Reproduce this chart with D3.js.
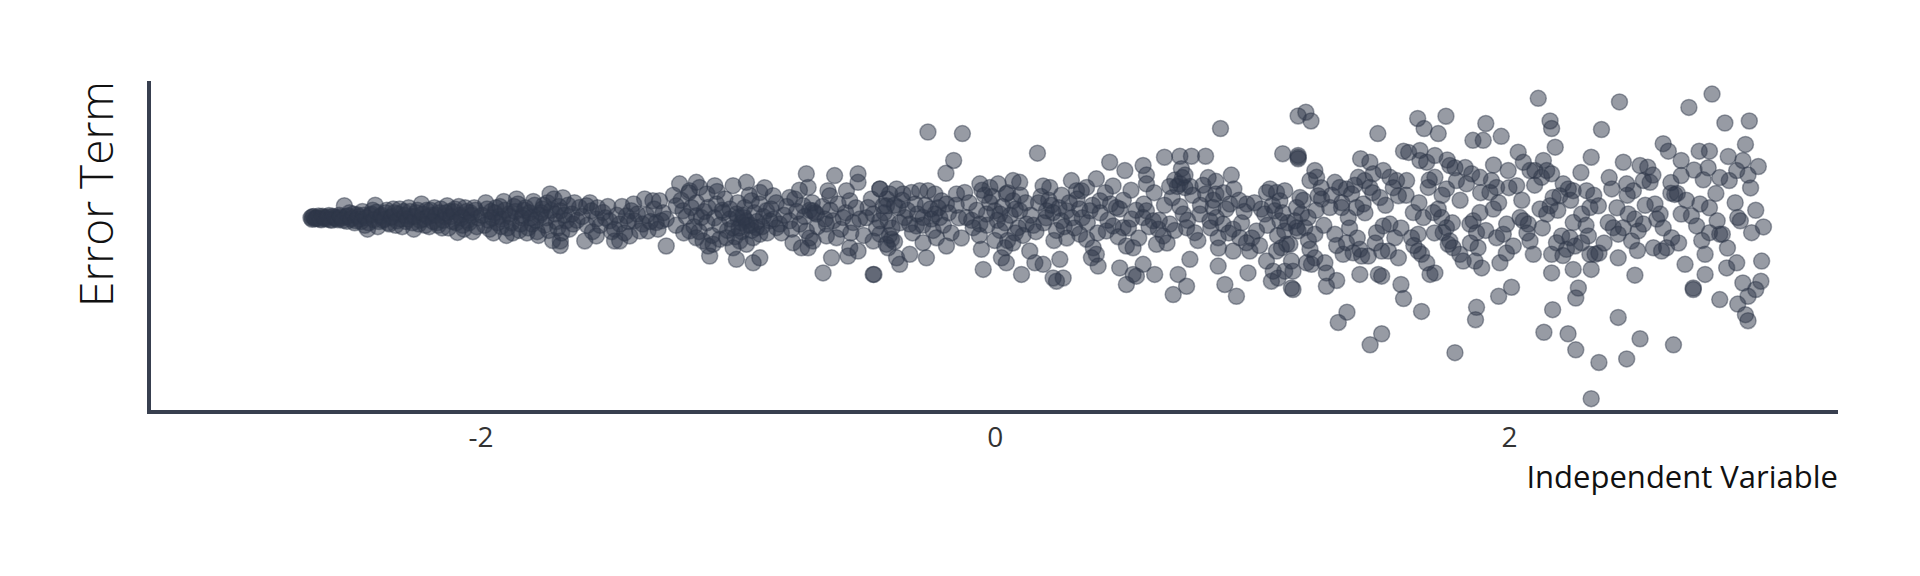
<!DOCTYPE html>
<html>
<head>
<meta charset="utf-8">
<script src="https://cdn.jsdelivr.net/npm/d3@7"></script>
<style>
  body { margin: 0; background: #ffffff; }
  svg { display: block; font-family: "Open Sans", sans-serif; }
</style>
</head>
<body>
<svg id="chart"></svg>
<script>
// Axis text
const xTicks = [-2, 0, 2];
const xLabel = 'Independent Variable';
const yLabel = 'Error Term';

// Points, [independent variable, error term], left to right
const tailPoints = [
  [-2.66,0.0],[-2.655,-0.06],[-2.65,0.05],[-2.64,-0.02],[-2.63,0.07],[-2.62,-0.08],[-2.61,0.02],[-2.60,-0.05],
  [-2.59,0.09],[-2.58,-0.1],[-2.57,0.03],[-2.56,-0.04],[-2.55,0.1],[-2.54,-0.02],[-2.53,0.48],[-2.525,0.05],
  [-2.52,-0.14],[-2.51,0.2],[-2.50,0.0],[-2.49,-0.2],[-2.48,0.12],[-2.47,-0.05],[-2.46,0.25],[-2.45,-0.3],
  [-2.44,-0.45],[-2.43,0.1],[-2.42,0.3],[-2.41,0.5],[-2.40,-0.35],[-2.39,0.05],[-2.38,-0.1],[-2.37,0.2],
  [-2.36,-0.2],[-2.35,0.0],[-2.34,0.35],[-2.33,-0.3],[-2.32,0.15],[-2.31,-0.05],[-2.30,0.25],[-2.29,-0.15],
  [-2.28,0.4],[-2.27,0.05],[-2.26,-0.45],[-2.25,0.2],[-2.24,-0.25],[-2.23,0.55],[-2.22,-0.05],[-2.21,0.3],
  [-2.20,-0.35],[-2.19,0.1],[-2.18,0.4],[-2.17,-0.2],[-2.16,0.2],[-2.15,-0.4],[-2.14,0.05],[-2.13,0.48],
  [-2.12,0.25],[-2.11,-0.15],[-2.10,0.35],[-2.09,-0.58],[-2.08,0.1],[-2.07,-0.3],[-2.06,0.4],[-2.05,-0.1],
  [-2.04,0.2],[-2.03,-0.55],[-2.02,0.3],[-2.01,0.0],
  [-2.655,0.04],[-2.645,-0.04],[-2.635,0.0],[-2.625,-0.05],[-2.615,0.06],[-2.605,-0.02],[-2.595,0.03],
  [-2.585,-0.07],[-2.575,0.06],[-2.565,0.0],[-2.555,-0.08],[-2.545,0.04],[-2.535,-0.1],[-2.515,0.08],
  [-2.505,-0.06],[-2.495,0.15],[-2.485,-0.12],[-2.475,0.05],[-2.465,-0.15],[-2.455,0.1],[-2.445,0.0],
  [-2.435,-0.2],[-2.425,0.15],[-2.415,-0.08],[-2.405,0.22],[-2.395,-0.15],[-2.385,0.1],[-2.375,-0.05],
  [-2.365,0.3],[-2.355,-0.25],[-2.345,0.05],[-2.335,0.2],[-2.325,-0.12],[-2.315,0.35],[-2.305,-0.35],
  [-2.295,0.1],[-2.285,-0.05],[-2.275,0.25],[-2.265,-0.2],[-2.255,0.05],[-2.245,0.3],[-2.235,-0.1],
  [-2.225,0.15],[-2.215,-0.3],[-2.205,0.05],[-2.195,0.3],[-2.185,-0.15],[-2.175,0.1],[-2.165,-0.3],
  [-2.155,0.35],[-2.145,-0.1],[-2.135,0.2],[-2.125,-0.4],[-2.115,0.05],[-2.105,0.25],[-2.095,-0.2],
  [-2.085,0.45],[-2.075,0.0],[-2.065,-0.45],[-2.055,0.25],[-2.045,-0.2],[-2.035,0.1],[-2.025,0.4],[-2.015,-0.35]
];

const narrowPoints = [
  [-1.98,0.6],[-1.97,-0.1],[-1.96,0.25],[-1.95,-0.6],[-1.94,0.4],[-1.93,0.05],[-1.92,-0.35],[-1.91,0.65],
  [-1.90,-0.7],[-1.89,0.15],[-1.88,-0.2],[-1.87,0.45],[-1.86,0.75],[-1.85,-0.5],[-1.84,0.0],[-1.83,0.3],
  [-1.82,-0.6],[-1.81,0.2],[-1.80,-0.25],[-1.79,0.5],[-1.78,-0.55],[-1.77,0.1],[-1.76,0.35],[-1.75,-0.3],
  [-1.74,0.6],[-1.73,0.95],[-1.72,-0.9],[-1.71,0.15],[-1.70,-0.4],[-1.69,-1.1],[-1.68,0.8],[-1.66,0.5],
  [-1.69,0.28],[-1.667,-0.12],[-1.64,-0.25],[-1.615,0.41],[-1.588,0.48],[-1.569,0.28],[-1.55,-0.05],
  [-1.524,0.21],[-1.498,-0.12],[-1.479,-0.45],[-1.459,-0.25],[-1.433,0.08],[-1.414,0.28],[-1.401,-0.12],
  [-1.381,-0.52],[-1.362,0.75],[-1.33,0.68],[-1.304,0.68],[-1.317,-0.19],[-1.297,-0.12],[-1.278,-0.05],
  [-1.69,-0.92],[-1.595,-0.92],[-1.55,-0.72],[-1.479,-0.92],[-1.459,-0.92],[-1.42,-0.72],[-1.349,-0.52],
  [-1.278,-1.12],
  [-1.995,0.1],[-1.985,-0.3],[-1.975,0.35],[-1.965,-0.45],[-1.955,0.0],[-1.945,0.2],[-1.935,-0.2],
  [-1.925,0.45],[-1.915,-0.05],[-1.905,0.3],[-1.895,-0.4],[-1.885,0.05],[-1.875,-0.6],[-1.865,0.25],
  [-1.855,0.55],[-1.845,-0.25],[-1.835,0.1],[-1.825,0.4],[-1.815,-0.4],[-1.805,0.0],[-1.795,0.65],
  [-1.785,-0.1],[-1.775,-0.7],[-1.765,0.2],[-1.755,0.5],[-1.745,0.0],[-1.735,-0.5],[-1.725,0.3],
  [-1.715,0.75],[-1.705,-0.15],[-1.695,0.45],[-1.685,-0.6],[-1.675,0.1],[-1.655,-0.45],[-1.645,0.15],
  [-1.635,0.6],[-1.625,-0.1],[-1.605,0.05],[-1.585,-0.3],[-1.575,0.6],[-1.565,-0.55],[-1.545,0.4],
  [-1.535,-0.3],[-1.515,0.0],[-1.505,0.45],[-1.49,-0.55],[-1.47,0.1],[-1.45,0.45],[-1.44,-0.6],
  [-1.425,-0.15],[-1.405,0.55],[-1.39,0.15],[-1.37,-0.25],[-1.355,0.1],[-1.34,-0.15],[-1.325,0.35],
  [-1.31,-0.45],[-1.29,0.2]
];

const middlePoints = [
  [-1.226,1.35],[-1.187,1.08],[-1.161,1.41],[-1.148,1.21],[-1.089,1.28],[-1.018,1.28],[-0.966,1.41],
  [-0.914,1.01],[-0.862,0.88],[-1.239,0.48],[-1.213,0.28],[-1.18,0.41],[-1.161,0.08],[-1.141,0.01],
  [-1.115,0.41],[-1.083,0.55],[-1.056,0.21],[-1.031,-0.05],[-1.005,0.15],[-0.985,-0.19],[-0.966,-0.12],
  [-0.973,0.41],[-0.947,0.68],[-0.927,-0.39],[-0.888,0.28],[-0.875,-0.12],[-0.849,-0.39],[-0.837,-0.25],
  [-1.187,-0.52],[-1.161,-0.79],[-1.135,-0.92],[-1.115,-1.12],[-1.096,-1.05],[-1.07,-0.85],[-1.044,-0.79],
  [-1.018,-1.19],[-0.992,-0.92],[-0.966,-1.05],[-0.94,-0.79],[-0.914,-0.65],[-1.109,-1.52],[-1.005,-1.65],
  [-0.94,-1.79],[-0.914,-1.59],[-1.06,0.3],[-1.0,0.0],[-0.98,0.1],[-1.02,-0.4],[-0.95,-0.3],[-1.12,-0.2],
  [-0.9,0.05],
  [-0.733,1.75],[-0.726,1.21],[-0.623,1.68],[-0.532,1.75],[-0.532,1.41],[-0.577,1.08],[-0.564,0.68],
  [-0.649,1.08],[-0.642,0.88],[-0.447,1.15],[-0.778,0.75],[-0.745,0.48],[-0.707,0.28],[-0.798,-0.12],
  [-0.759,-0.25],[-0.733,-0.52],[-0.694,0.15],[-0.655,-0.25],[-0.629,-0.12],[-0.59,0.01],[-0.551,-0.19],
  [-0.525,-0.05],[-0.493,0.41],[-0.473,0.15],[-0.434,0.48],[-0.415,-0.12],[-0.785,-0.99],[-0.752,-1.19],
  [-0.726,-1.19],[-0.707,-0.92],[-0.655,-0.72],[-0.616,-0.79],[-0.564,-1.19],[-0.532,-1.32],[-0.473,-0.92],
  [-0.447,-0.65],[-0.422,-1.05],[-0.635,-1.59],[-0.571,-1.52],[-0.668,-2.19],[-0.473,-2.25],[-0.72,0.3],
  [-0.70,0.2],[-0.798,0.81],
  [-1.25,0.9],[-1.24,-0.3],[-1.22,0.7],[-1.21,-0.6],[-1.2,0.05],[-1.19,1.0],[-1.17,-0.35],[-1.16,0.6],
  [-1.15,-0.55],[-1.13,0.25],[-1.12,0.95],[-1.1,-0.7],[-1.09,0.0],[-1.08,1.05],[-1.07,-0.3],[-1.05,0.75],
  [-1.04,-0.5],[-1.03,0.35],[-1.01,-0.75],[-1.0,0.6],[-0.995,-0.4],[-0.985,-0.55],[-0.975,0.0],
  [-0.965,-0.3],[-0.955,0.9],[-0.945,-0.5],[-0.935,0.2],[-0.925,-0.15],[-0.915,0.55],[-0.905,-0.35],
  [-0.895,1.2],[-0.885,-0.6],[-0.87,0.35],[-0.86,-0.05],[-0.85,0.6],[-0.83,-0.6],[-0.82,0.1],[-0.81,0.45],
  [-0.79,-0.45],[-0.77,0.25],[-0.76,1.1],[-0.74,0.05],[-0.72,-0.8],[-0.71,0.6],[-0.69,-0.35],[-0.67,0.45],
  [-0.66,-0.05],[-0.64,0.3],[-0.61,0.55],[-0.6,-0.45],[-0.58,0.2],[-0.56,-0.6],[-0.54,0.4],[-0.51,-0.7],
  [-0.5,0.0],[-0.48,0.75],[-0.46,-0.4]
];

const widePoints = [
  [-0.26,3.41],[-0.126,3.35],[-0.16,2.28],[-0.19,1.77],[0.166,2.57],[0.878,3.55],[1.12,2.55],[0.447,2.21],
  [0.506,1.88],[0.577,2.08],[0.66,2.41],[0.72,2.45],[0.765,2.45],[0.82,2.45],[0.726,1.95],[0.59,1.7],
  [0.59,1.35],[0.70,1.5],[0.72,1.35],[0.74,1.2],[0.71,1.25],[0.68,1.25],[0.76,1.25],[0.73,1.6],
  [0.83,1.6],[0.86,1.45],[0.92,1.7],[0.82,0.95],[0.86,0.95],[0.89,1.0],[0.98,0.55],[0.95,0.7],
  [-0.447,1.15],[-0.409,0.95],[-0.382,1.15],[-0.357,0.95],[-0.421,0.48],[-0.376,0.41],[-0.324,1.01],
  [-0.292,1.08],[-0.26,1.08],[-0.233,0.95],[-0.207,0.68],[-0.35,0.01],[-0.331,-0.25],[-0.305,-0.32],
  [-0.279,0.01],[-0.246,-0.05],[-0.233,0.15],[-0.214,0.01],[-0.188,0.55],[-0.149,0.95],[-0.117,1.01],
  [-0.402,-0.85],[-0.415,-1.19],[-0.382,-1.59],[-0.37,-1.85],[-0.331,-1.45],[-0.266,-1.59],[-0.227,-0.79],
  [-0.188,-1.12],[-0.279,-0.99],[-0.41,-0.7],[-0.39,-0.95],[-0.447,-0.12],[-0.47,-2.25],
  [-0.052,-1.25],[-0.045,-2.05],[0.026,-1.59],[0.039,-1.19],[0.045,-1.79],[0.104,-2.25],[0.136,-1.32],
  [0.091,-0.39],[0.123,-0.25],[0.097,0.28],[-0.11,0.01],[-0.084,-0.39],[-0.058,-0.25],[-0.032,0.15],
  [0.0,0.28],[-0.019,1.21],[-0.058,1.35],[0.013,1.35],[0.071,1.48],[0.097,1.41],[0.045,0.95],[0.071,0.68],
  [-0.02,0.6],[0.03,0.45],[0.06,0.1],[0.01,-0.1],[-0.04,0.9],[0.08,-0.6],[0.05,-0.9],[0.02,-0.5],[0.1,0.9],
  [0.188,1.27],[0.214,1.21],[0.201,0.28],[0.227,0.21],[0.259,-0.12],[0.298,1.48],[0.318,1.08],[0.337,1.08],
  [0.357,1.21],[0.279,0.28],[0.33,0.35],[0.37,0.28],[0.395,1.55],[0.409,0.68],[0.46,1.27],[0.473,0.41],
  [0.486,0.35],[0.156,-1.79],[0.188,-1.85],[0.227,-2.39],[0.24,-2.52],[0.253,-1.65],[0.266,-2.39],
  [0.33,-0.65],[0.357,-0.85],[0.383,-1.19],[0.395,-1.45],[0.402,-1.92],[0.376,-1.59],[0.434,-0.52],
  [0.46,-0.32],[0.499,-0.39],[0.512,-1.12],[0.538,-1.19],[0.532,-0.05],[0.577,0.01],[0.577,-1.85],
  [0.538,-2.25],[0.512,-2.65],[0.551,-2.32],[0.622,-2.25],[0.486,-1.99],[0.17,0.6],[0.2,0.0],[0.24,-0.5],
  [0.15,-0.3],[0.28,-0.8],[0.3,0.0],[0.22,0.5],
  [0.59,0.28],[0.616,-0.12],[0.636,-0.45],[0.655,-0.72],[0.681,-0.25],[0.733,0.15],[0.746,-0.39],
  [0.778,-0.59],[0.629,-1.05],[0.713,-2.25],[0.694,-3.05],[0.746,-2.72],[0.759,-1.65],[0.798,0.15],
  [0.837,-0.12],[0.862,0.01],[0.888,-0.25],[0.927,-0.45],[0.953,-0.79],[0.979,-0.99],[0.869,-0.79],
  [0.849,0.41],[0.914,0.55],[0.869,-1.92],[0.895,-2.65],[0.94,-3.12],[0.927,-1.32],[0.985,-2.19],
  [0.992,-1.32],[1.018,-0.52],[1.037,0.35],[1.057,1.01],[1.07,1.15],[1.096,1.01],[1.109,0.68],[1.128,1.08],
  [1.089,0.28],[1.109,-0.12],[1.128,-0.52],[1.135,-1.05],[1.115,-1.19],[1.096,-1.32],[1.057,-1.72],
  [1.083,-2.12],[1.076,-2.52],[1.102,-2.39],[1.128,-2.12],[1.154,-2.79],[1.174,-0.39],[1.18,2.41],[1.187,0.81],
  [-0.43,0.2],[-0.42,0.75],[-0.4,-0.4],[-0.39,0.5],[-0.37,-0.2],[-0.36,0.7],[-0.34,0.3],[-0.32,-0.6],
  [-0.31,0.55],[-0.3,0.15],[-0.28,-0.3],[-0.27,0.5],[-0.25,0.35],[-0.24,-0.5],[-0.22,0.4],[-0.2,-0.3],
  [-0.18,0.2],[-0.17,-0.6],[-0.15,0.5],[-0.14,0.0],[-0.13,-0.8],[-0.1,0.6],[-0.09,-0.1],[-0.07,0.3],
  [-0.06,-0.7],[-0.05,1.1],[-0.03,-0.3],[-0.01,0.85],[0.0,-0.9],[0.02,0.15],[0.04,-0.2],[0.05,1.0],
  [0.07,-1.0],[0.08,0.35],[0.11,-0.7],[0.12,0.6],[0.14,0.1],[0.16,-0.55],[0.18,0.85],[0.19,-0.2],
  [0.21,0.7],[0.23,-0.9],[0.25,0.4],[0.26,0.9],[0.27,-0.35],[0.29,0.6],[0.31,-0.4],[0.32,0.75],
  [0.34,0.0],[0.36,-0.2],[0.38,0.5],[0.4,-0.6],[0.41,0.2],[0.43,1.0],[0.44,-0.1],[0.45,0.55],
  [0.48,-0.75],[0.5,0.7],[0.52,-0.4],[0.53,1.1],[0.55,0.3],[0.56,-0.8],[0.58,0.55],[0.6,-0.35],
  [0.62,1.0],[0.64,-0.1],[0.66,0.5],[0.67,-1.0],[0.69,0.8],[0.7,-0.5],[0.72,0.45],[0.74,1.7],
  [0.75,-0.1],[0.77,0.9],[0.79,-0.9],[0.8,0.5],[0.81,1.3],[0.84,-0.4],[0.85,0.7],[0.87,-1.2],
  [0.9,0.35],[0.91,-0.6],[0.93,1.15],[0.96,-0.2],[0.97,0.25],[1.0,-0.8],[1.01,0.6],[1.03,-1.1],
  [1.05,0.15],[1.06,-0.3],[1.08,0.5],[1.1,-0.7],[1.12,0.2],[1.14,-0.2]
];

const fanPoints = [
  [1.18,4.05],[1.21,4.2],[1.23,3.85],[1.49,3.35],[1.645,3.95],[1.755,4.04],[1.67,3.55],[1.725,3.35],
  [1.91,3.75],[1.86,3.08],[1.90,3.08],[1.97,3.24],[1.18,2.48],[1.18,2.35],[1.423,2.35],[1.459,2.21],
  [1.59,2.65],[1.61,2.6],[1.654,2.68],[1.654,2.28],[1.68,2.21],[1.712,2.48],[1.77,2.08],[1.79,1.99],
  [2.036,2.61],[2.056,2.21],[2.134,2.28],[2.147,1.88],[2.082,1.88],[2.445,2.21],[2.51,2.08],[2.54,2.01],
  [2.523,1.48],[2.549,1.41],[2.458,1.35],[2.4,1.15],[2.484,1.08],[1.245,1.88],[1.252,1.61],[1.226,1.48],
  [1.258,0.88],[1.271,0.75],[1.323,1.41],[1.342,1.21],[1.368,1.15],[1.388,0.95],[1.414,1.61],[1.439,1.48],
  [1.472,1.75],[1.511,1.88],[1.537,1.61],[1.563,1.48],[1.602,1.48],[1.459,1.21],[1.498,0.81],[1.57,0.88],
  [1.686,1.21],[1.712,1.61],[1.757,1.15],[1.796,1.48],[1.835,1.35],[1.855,1.75],[1.887,1.61],[1.932,1.48],
  [1.952,1.21],[1.926,1.01],[1.997,1.88],[2.03,1.28],[2.101,1.88],[2.127,1.61],[2.166,1.75],[2.211,1.35],
  [2.231,1.15],[2.198,0.88],[2.172,0.81],[2.25,1.08],[2.302,1.08],[2.315,0.41],[2.348,0.48],
  [1.174,0.41],[1.193,0.15],[1.167,-0.12],[1.18,-0.52],[1.206,-0.39],[1.219,0.01],[1.245,-0.65],
  [1.148,-1.05],[1.154,-1.72],[1.226,-1.25],[1.245,-1.59],[1.213,-1.79],[1.232,-1.85],[1.284,-1.79],
  [1.29,-2.19],[1.323,-0.65],[1.368,-0.99],[1.355,-1.45],[1.394,-1.39],[1.42,-1.25],[1.42,-2.25],
  [1.427,-1.52],[1.453,-1.52],[1.303,0.41],[1.349,0.41],[1.375,0.01],[1.407,0.41],[1.433,0.55],
  [1.485,-0.59],[1.511,-0.32],[1.537,-0.25],[1.505,-1.32],[1.531,-1.32],[1.57,-1.59],[1.556,-0.79],
  [1.492,-2.25],[1.505,-2.32],[1.628,0.21],[1.667,0.01],[1.706,0.21],[1.725,0.35],[1.738,0.01],
  [1.757,-0.39],[1.621,-0.79],[1.647,-0.65],[1.647,-1.32],[1.66,-1.45],[1.68,-1.79],[1.693,-2.25],
  [1.712,-2.19],[1.744,-0.59],[1.77,-0.92],[1.783,-1.19],[1.764,-1.05],[1.809,-1.45],[1.822,-1.72],
  [1.848,-0.25],[1.861,-0.12],[1.887,0.21],[1.874,-0.59],[1.88,-1.19],[1.868,-1.72],[1.894,-1.99],
  [1.939,0.35],[1.952,-0.79],[1.965,-1.79],[1.978,-0.65],[1.991,-0.25],[2.017,-1.12],[2.043,0.01],
  [2.056,-0.12],[2.075,-0.25],[2.082,-0.92],[2.095,-1.45],[2.121,0.35],[2.147,0.15],[2.16,0.48],
  [2.166,-1.45],[2.185,-0.99],[2.205,-0.72],[2.224,-1.25],[2.237,-0.79],[2.25,-0.19],[2.283,0.15],
  [2.257,-1.12],[2.283,-0.99],[2.309,-0.72],[2.315,-1.45],[2.335,-1.45],[2.35,-1.4],[2.386,-0.19],
  [2.406,-0.39],[2.425,-0.65],[2.445,-0.39],[2.464,0.15],[2.49,-0.05],[2.477,-0.92],[2.503,-0.52],
  [2.523,-0.25],[2.425,-1.59],[2.562,-1.19],[2.594,-1.32],[2.613,-1.19],[2.633,-0.79],[2.568,0.55],
  [2.588,0.15],[2.575,-0.05],
  [2.114,4.75],[2.43,4.61],[2.79,4.92],[2.70,4.39],[2.84,3.77],[2.935,3.85],[2.36,3.51],[2.16,3.85],
  [2.166,3.55],[2.18,2.81],[2.32,2.41],[2.92,2.92],[2.97,2.04],[2.94,1.19],[2.853,2.44],[2.91,2.28],
  [2.74,2.65],[2.78,2.65],[2.775,1.99],[2.756,1.51],[2.805,0.97],[2.857,1.48],[2.886,1.88],[2.60,2.95],
  [2.62,2.65],[2.67,2.28],[2.67,1.68],[2.63,0.98],[2.645,0.93],[2.655,0.97],[2.743,0.55],[2.67,0.15],
  [2.71,0.08],[2.73,-0.32],[2.81,-0.12],[2.82,-0.65],[2.83,-0.65],[2.89,0.01],[2.90,-0.12],[2.944,-0.59],
  [2.99,-0.36],[2.78,-0.59],[2.763,-1.45],[2.685,-1.85],[2.763,-2.25],[2.717,-2.79],[2.717,-2.85],
  [2.82,-3.25],[2.847,-1.99],[2.886,-1.79],[2.983,-1.72],[2.91,-2.59],[2.98,-2.52],[2.96,-2.85],
  [2.93,-3.12],[2.89,-3.43],[2.92,-3.85],[2.93,-4.09],[2.64,-5.05],[2.425,-3.96],[2.51,-4.81],
  [2.458,-5.61],[2.35,-5.75],[2.32,-7.19],[2.26,-5.25],[2.23,-4.61],[2.136,-4.55],[2.17,-3.65],
  [2.26,-3.19],[2.27,-2.79],[2.49,-2.28],[2.25,-2.05],[2.32,-2.05],[2.166,-2.19],[2.01,-2.76],[1.96,-3.12],
  [1.874,-3.56],[1.87,-4.05],[1.79,-5.36],[1.66,-3.72],[1.59,-3.21],[1.58,-2.65],[1.505,-4.61],
  [1.46,-5.05],[1.37,-3.75],[1.336,-4.16],[1.29,-2.72],[1.33,-2.49],[1.16,-2.85],[1.16,-2.12],
  [1.2,0.7],[1.22,-0.9],[1.25,0.3],[1.27,1.2],[1.28,-0.3],[1.31,0.9],[1.33,-1.1],[1.35,0.6],
  [1.38,-0.4],[1.4,1.3],[1.41,-0.8],[1.44,0.2],[1.47,1.0],[1.48,-1.0],[1.52,0.5],[1.55,1.2],
  [1.58,-0.4],[1.6,0.9],[1.63,-1.1],[1.65,0.6],[1.69,1.5],[1.71,-0.6],[1.74,0.9],[1.76,2.3],
  [1.78,-0.2],[1.81,0.7],[1.83,2.0],[1.85,-1.0],[1.89,1.0],[1.91,-0.5],[1.94,2.1],[1.96,0.6],
  [1.99,-1.4],[2.0,1.2],[2.05,0.7],[2.07,-0.6],[2.1,1.3],[2.13,-0.4],[2.19,0.3],[2.21,-1.5],
  [2.24,0.7],[2.28,1.8],[2.3,-0.3],[2.33,0.9],[2.37,-1.0],[2.39,1.6],[2.42,0.4],[2.46,0.9],
  [2.5,-1.3],[2.53,0.5],[2.56,1.7],[2.6,-0.4],[2.63,1.4],[2.66,-1.0],[2.69,0.7],[2.72,1.9],
  [2.75,-0.9],[2.78,0.4],[2.82,1.6],[2.85,-1.2],[2.88,0.6],[2.93,1.7],[2.96,0.3]
];

const points = [...tailPoints, ...narrowPoints, ...middlePoints, ...widePoints, ...fanPoints];

//
// Scatter chart: plain circles on a linear x/y scale, bare axis lines
//
const ScatterChart = (id, data, {
  x = d => d[0],
  y = d => d[1],
  marginTop = 81,
  marginRight = 82,
  marginBottom = 164,
  marginLeft = 149,
  width = 1920,
  height = 576,
  xDomain = [-3.29, 3.28],
  yDomain = [-7.72, 5.44],
  radius = 8,
  fill = '#2f3749',
  axisColor = '#383f4f',
  textColor = '#333333'
} = {}) => {

  const X = d3.map(data, x);
  const Y = d3.map(data, y);
  const I = d3.range(X.length);

  const xScale = d3.scaleLinear(xDomain, [marginLeft, width - marginRight]);
  const yScale = d3.scaleLinear(yDomain, [height - marginBottom, marginTop]);

  const xAxis = d3.axisBottom(xScale)
    .tickValues(xTicks)
    .tickFormat(d => String(d))
    .tickSize(0)
    .tickPadding(15);

  const svg = d3.select(`#${id}`)
    .attr('width', width)
    .attr('height', height)
    .attr('viewBox', [0, 0, width, height]);

  // Dots
  svg.append('g')
    .selectAll('circle')
    .data(I)
    .join('circle')
      .attr('cx', i => xScale(X[i]))
      .attr('cy', i => yScale(Y[i]))
      .attr('r', radius)
      .attr('fill', fill)
      .attr('fill-opacity', 0.5)
      .attr('stroke', fill)
      .attr('stroke-opacity', 0.45)
      .attr('stroke-width', 1.5);

  // X ticks
  svg.append('g')
    .attr('transform', `translate(0,${height - marginBottom})`)
    .call(xAxis)
    .call(g => g.select('.domain').remove())
    .call(g => g.selectAll('.tick text')
      .attr('fill', textColor)
      .attr('font-size', 28)
      .attr('font-family', '"Open Sans", sans-serif'));

  // Axis lines
  const [x0, x1] = xScale.range();
  const [y0, y1] = yScale.range();
  svg.append('path')
    .attr('d', `M${x0},${y1}V${y0}H${x1}`)
    .attr('fill', 'none')
    .attr('stroke', axisColor)
    .attr('stroke-width', 4);

  // Labels
  svg.append('text')
    .attr('x', x1)
    .attr('y', y0 + 76)
    .attr('text-anchor', 'end')
    .attr('fill', '#111111')
    .attr('font-size', 31)
    .text(xLabel);

  svg.append('text')
    .attr('transform', `translate(${x0 - 36},${y1}) rotate(-90)`)
    .attr('text-anchor', 'end')
    .attr('fill', '#111111')
    .attr('font-size', 46)
    .attr('font-weight', 300)
    .text(yLabel);
}

ScatterChart('chart', points);
</script>
</body>
</html>
